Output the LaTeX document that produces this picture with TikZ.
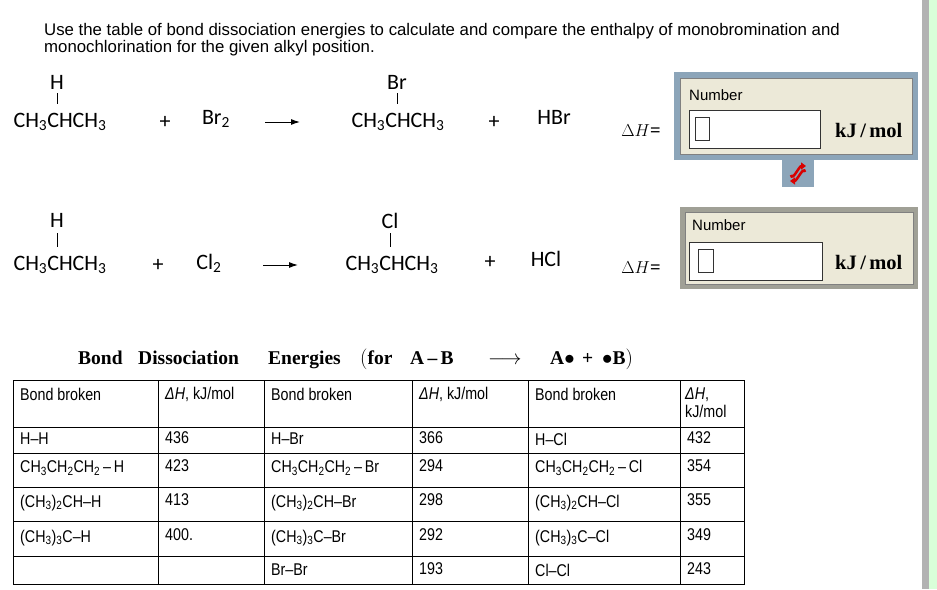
\documentclass[tikz,border=0pt]{standalone}
\usepackage{fontspec}
\usetikzlibrary{arrows.meta}
\setmainfont{Liberation Serif}
\setsansfont{Liberation Sans}
\newfontfamily\chem{Carlito}
\newfontfamily\ar{Liberation Sans}
\newfontfamily\arn[FakeStretch=0.84]{Liberation Sans}
\definecolor{beige}{RGB}{236,233,216}
\definecolor{frameb}{RGB}{140,165,185}
\definecolor{frameg}{RGB}{160,160,150}
\newcommand{\bd}{\textendash}
\begin{document}
\begin{tikzpicture}[x=1pt,y=-1pt,
 q/.style={font=\ar\fontsize{16.8}{18}\selectfont,anchor=west,inner sep=0},
 ch/.style={font=\chem\fontsize{22}{24}\selectfont,inner sep=0},
 tb/.style={font=\arn\fontsize{17}{18}\selectfont,anchor=west,inner sep=0},
 lab/.style={font=\ar\fontsize{15}{16}\selectfont,anchor=west,inner sep=0},
 kj/.style={font=\bfseries\fontsize{20.5}{22}\selectfont,anchor=west,inner sep=0},
 dh/.style={font=\bfseries\fontsize{18.5}{20}\selectfont,inner sep=0},
 ti/.style={font=\bfseries\fontsize{19.5}{22}\selectfont,anchor=base west,inner sep=0},
 rx/.style={line width=1pt,-{Latex[length=9pt,width=6pt]}},
 ra/.style={red!85!black,line width=2.5pt,-{Triangle[length=5pt,width=7pt]}}]
\useasboundingbox (0,0) rectangle (937,589);
\fill[white] (0,0) rectangle (937,589);
% scrollbar
\fill[gray!60] (922,0) rectangle (929,589);
\fill[green!15] (929,0) rectangle (937,589);
\node[q] (q1) at (44,31) {Use the table of bond dissociation energies to calculate and compare the enthalpy of monobromination and};
\node[q] (q2) at (44,48) {monochlorination for the given alkyl position.};
% reaction 1
\node[ch] (r1) at (60,122) {CH\textsubscript{3}CHCH\textsubscript{3}};
\node[ch] (h1) at (57,82) {H};
\draw (57,93) -- (57,104);
\node[ch] (p1) at (165,122) {+};
\node[ch] (b2) at (216,119) {Br\textsubscript{2}};
\draw[rx] (265,122) -- (300,122);
\node[ch] (pr1) at (398,122) {CH\textsubscript{3}CHCH\textsubscript{3}};
\node[ch] (br) at (397,82) {Br};
\draw (397,93) -- (397,104);
\node[ch] (p2) at (494,122) {+};
\node[ch] (hbr) at (554,117) {HBr};
\node[dh] (dh1) at (641,131) {$\Delta H$=};
% reaction 2
\node[ch] (r2) at (60,265) {CH\textsubscript{3}CHCH\textsubscript{3}};
\node[ch] (h2) at (57,220) {H};
\draw (57,233) -- (57,247);
\node[ch] (p3) at (158,265) {+};
\node[ch] (c2) at (209,263) {Cl\textsubscript{2}};
\draw[rx] (263,265) -- (298,265);
\node[ch] (pr2) at (392,265) {CH\textsubscript{3}CHCH\textsubscript{3}};
\node[ch] (cl) at (390,221) {Cl};
\draw (390,233) -- (390,247);
\node[ch] (p4) at (490,262) {+};
\node[ch] (hcl) at (546,259) {HCl};
\node[dh] (dh2) at (641,268) {$\Delta H$=};
% box 1
\fill[frameb] (674,72) rectangle (918,160);
\fill[beige,draw=gray] (680,78) rectangle (912,154);
\node[lab] (n1) at (689,95) {Number};
\draw[fill=white,draw=gray!40!black] (689,110) rectangle (820,148);
\draw[fill=white,draw=gray!40!black] (695,117) rectangle (709,140);
\node[kj] (k1) at (835,130) {kJ\,/\,mol};
\fill[frameb] (782,160) rectangle (814,187);
\draw[ra] (791,175) to[out=-80,in=180] (806,166);
\draw[ra] (805,172) to[out=100,in=0] (790,181);
% box 2
\fill[frameg] (680,207) rectangle (918,289);
\fill[beige,draw=gray] (685,212) rectangle (913,284);
\node[lab] (n2) at (692,225) {Number};
\draw[fill=white,draw=gray!40!black] (689,242) rectangle (822,280);
\draw[fill=white,draw=gray!40!black] (698,249) rectangle (713,272);
\node[kj] (k2) at (835,262) {kJ\,/\,mol};
% title
\node[ti] (t1) at (78,364) {Bond};
\node[ti] (t2) at (138,364) {Dissociation};
\node[ti] (t3) at (268,364) {Energies};
\node[ti] (t4) at (360,364) {$\Bigl($for};
\node[ti] (t5) at (410,364) {A\,\textendash\,B};
\node[ti] (t6) at (488,364) {$\longrightarrow$};
\node[ti] (t7) at (550,364) {A$\bullet$};
\node[ti] (t8) at (582,364) {+};
\node[ti] (t9) at (602,364) {$\bullet$B$\Bigr)$};
% table
\draw[line width=0.9pt] (13,380) rectangle (744,584);
\foreach \y in {427,453,487,521,556} \draw[line width=0.9pt] (13,\y) -- (744,\y);
\foreach \x in {158,264,412,528,680} \draw[line width=0.9pt] (\x,380) -- (\x,584);
\node[tb] at (20,394) {Bond broken};
\node[tb] at (165,394) {\textit{ΔH}, kJ/mol};
\node[tb] at (271,394) {Bond broken};
\node[tb] at (419,394) {\textit{ΔH}, kJ/mol};
\node[tb] at (535,394) {Bond broken};
\node[tb,align=left] at (685,403) {\textit{ΔH},\\kJ/mol};
\node[tb] at (20,439) {H\bd H};\node[tb] at (165,438) {436};
\node[tb] at (271,439) {H\bd Br};\node[tb] at (419,438) {366};
\node[tb] at (535,439) {H\bd Cl};\node[tb] at (687,438) {432};
\node[tb] at (20,468) {CH\textsubscript{3}CH\textsubscript{2}CH\textsubscript{2}\,\bd\,H};\node[tb] at (165,466) {423};
\node[tb] at (271,468) {CH\textsubscript{3}CH\textsubscript{2}CH\textsubscript{2}\,\bd\,Br};\node[tb] at (419,466) {294};
\node[tb] at (535,468) {CH\textsubscript{3}CH\textsubscript{2}CH\textsubscript{2}\,\bd\,Cl};\node[tb] at (687,466) {354};
\node[tb] at (20,503) {(CH\textsubscript{3})\textsubscript{2}CH\bd H};\node[tb] at (165,500) {413};
\node[tb] at (271,503) {(CH\textsubscript{3})\textsubscript{2}CH\bd Br};\node[tb] at (419,500) {298};
\node[tb] at (535,503) {(CH\textsubscript{3})\textsubscript{2}CH\bd Cl};\node[tb] at (687,500) {355};
\node[tb] at (20,538) {(CH\textsubscript{3})\textsubscript{3}C\bd H};\node[tb] at (165,535) {400.};
\node[tb] at (271,538) {(CH\textsubscript{3})\textsubscript{3}C\bd Br};\node[tb] at (419,535) {292};
\node[tb] at (535,538) {(CH\textsubscript{3})\textsubscript{3}C\bd Cl};\node[tb] at (687,535) {349};
\node[tb] at (271,570) {Br\bd Br};\node[tb] at (419,569) {193};
\node[tb] at (535,570) {Cl\bd Cl};\node[tb] at (687,569) {243};
\end{tikzpicture}
\end{document}
